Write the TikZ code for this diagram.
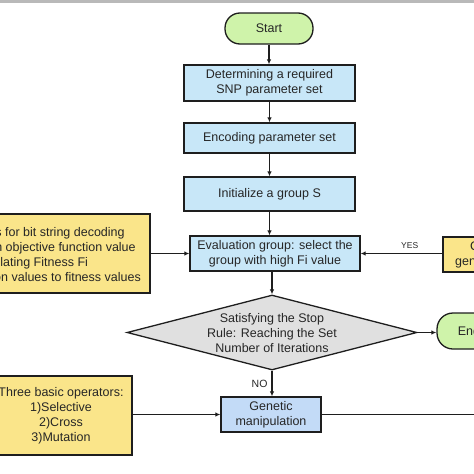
\documentclass[tikz,border=0pt]{standalone}
\usepackage{fontspec}
\setmainfont{Liberation Sans}
\usetikzlibrary{shapes.geometric,arrows.meta}
\definecolor{boxblue}{HTML}{C8E7F8}
\definecolor{genblue}{HTML}{C3DBF7}
\definecolor{boxyellow}{HTML}{FAE58A}
\definecolor{boxgreen}{HTML}{CFF3AA}
\definecolor{diagray}{HTML}{E0E0E0}
\definecolor{edgecol}{HTML}{1E1E1E}
\definecolor{topbar}{HTML}{B9B9B9}
\begin{document}
\begin{tikzpicture}[x=1pt,y=-1pt,
  txt/.style={font=\fontsize{12.5pt}{15pt}\selectfont, text=black!85},
  procbox/.style={draw=edgecol, line width=1.3pt, fill=boxblue, txt, align=center, inner sep=0pt},
  notebox/.style={draw=edgecol, line width=1.3pt, fill=boxyellow, inner sep=0pt},
  termbox/.style={draw=edgecol, line width=1.3pt, fill=boxgreen, txt, align=center, inner sep=0pt},
  diabox/.style={diamond, draw=edgecol, line width=1.3pt, fill=diagray, inner sep=0pt, minimum width=290pt, minimum height=75pt},
  arr/.style={draw=edgecol, line width=1.1pt, -{Latex[length=5pt,width=4.5pt]}},
  plainline/.style={draw=edgecol, line width=1.1pt}
]
\useasboundingbox (0,0) rectangle (474,474);
\clip (0,0) rectangle (474,474);
\fill[topbar] (0,0) rectangle (474,2.5);

% main column
\node[termbox, rounded corners=15pt, minimum width=88pt, minimum height=31pt] (start) at (269,28.5) {Start};
\node[procbox, minimum width=171pt, minimum height=36pt] (b1) at (269.5,83) {Determining a required\\SNP parameter set};
\node[procbox, minimum width=171pt, minimum height=30pt] (b2) at (269.5,138) {Encoding parameter set};
\node[procbox, minimum width=171pt, minimum height=34pt] (b3) at (269.5,194) {Initialize a group S};
\node[procbox, minimum width=170pt, minimum height=35pt] (eval) at (275,253.5) {Evaluation group: select the\\group with high Fi value};
\node[diabox] (dia) at (272,332.5) {};
\node[txt, align=center, inner sep=0pt] (diatext) at (272,333) {Satisfying the Stop\\Rule: Reaching the Set\\Number of Iterations};
\node[procbox, fill=genblue, minimum width=100pt, minimum height=35pt] (gen) at (271,414.5) {Genetic\\manipulation};

% side boxes
\node[notebox, minimum width=160pt, minimum height=79pt] (l1) at (70,253.5) {};
\node[txt, anchor=west, align=left, inner sep=0pt] (l1text) at (-6,254.5)
  {\hspace*{1.2pt}s for bit string decoding\\\hspace*{1.1pt}n objective function value\\\hspace*{6.2pt}lating Fitness Fi\\on values to fitness values};
\node[notebox, minimum width=50pt, minimum height=35pt] (r1) at (468,254.5) {};
\node[txt, anchor=west, align=left, inner sep=0pt] (r1text) at (455,254.5) {\hspace*{15pt}C\\gen};
\node[termbox, rounded corners=16pt, minimum width=64pt, minimum height=36pt] (endn) at (469,331) {End};
\node[notebox, txt, align=center, minimum width=142pt, minimum height=79pt] (l2) at (61,415.5) {Three basic operators:\\1)Selective\\2)Cross\\3)Mutation};

% connectors
\draw[arr] (start.south) -- (start.south |- b1.north);
\draw[arr] (b1.south) -- (b1.south |- b2.north);
\draw[arr] (b2.south) -- (b2.south |- b3.north);
\draw[arr] (b3.south) -- (b3.south |- eval.north);
\draw[arr] (eval.south -| dia.north) -- (dia.north);
\draw[arr] (dia.south) -- (dia.south |- gen.north)
  node[midway, left=4pt, inner sep=0pt, font=\fontsize{10.5pt}{12pt}\selectfont, text=black!85] {NO};
\draw[arr] (dia.east) -- (dia.east -| endn.west);
\draw[arr] (l1.east) -- (l1.east -| eval.west);
\draw[arr] (r1.west |- eval.east) -- (eval.east)
  node[pos=0.4, above=4pt, inner sep=0pt, font=\fontsize{8.5pt}{10pt}\selectfont, text=black!85] {YES};
\draw[arr] (l2.east |- gen.west) -- (gen.west);
\coordinate (gout) at (490,414.5);
\draw[plainline] (gen.east) -- (gout);
\end{tikzpicture}
\end{document}
